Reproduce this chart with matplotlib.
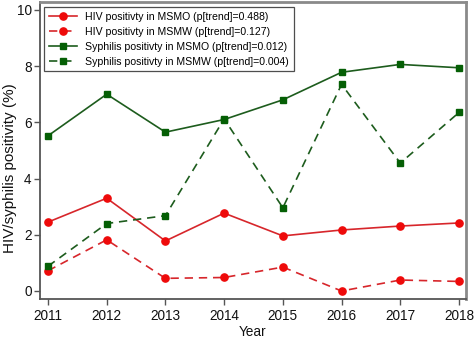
import matplotlib
matplotlib.use("Agg")
import matplotlib.pyplot as plt

years = [2011, 2012, 2013, 2014, 2015, 2016, 2017, 2018]
hiv_msmo = [2.45, 3.30, 1.78, 2.77, 1.96, 2.17, 2.31, 2.42]
hiv_msmw = [0.72, 1.82, 0.45, 0.48, 0.85, 0.00, 0.39, 0.34]
syph_msmo = [5.52, 7.00, 5.65, 6.10, 6.80, 7.78, 8.06, 7.94]
syph_msmw = [0.88, 2.40, 2.68, 6.12, 2.96, 7.35, 4.55, 6.35]
labels = ["HIV positivty in MSMO (p[trend]=0.488)",
          "HIV positivty in MSMW (p[trend]=0.127)",
          "Syphilis positivty in MSMO (p[trend]=0.012)",
          "Syphilis positivty in MSMW (p[trend]=0.004)"]

plt.rcParams['font.family'] = ['Liberation Sans', 'DejaVu Sans']

fig = plt.figure(figsize=(4.74, 3.38), dpi=100)
ax = fig.add_axes([40/474, 1 - 299/338, (466-40)/474, (299-2)/338])

red_line = '#d7262b'
red_mk = '#ee0a0a'
grn_line = '#1d5c1d'
grn_mk = '#055f05'

ax.plot(years, hiv_msmo, '-', color=red_line, lw=1.2, marker='o', ms=5.2,
        mfc=red_mk, mec=red_mk, label=labels[0])
ax.plot(years, hiv_msmw, '--', color=red_line, lw=1.2, marker='o', ms=5.2,
        mfc=red_mk, mec=red_mk, dashes=(5, 3.5), label=labels[1])
ax.plot(years, syph_msmo, '-', color=grn_line, lw=1.2, marker='s', ms=4.6,
        mfc=grn_mk, mec=grn_mk, label=labels[2])
ax.plot(years, syph_msmw, '--', color=grn_line, lw=1.2, marker='s', ms=4.6,
        mfc=grn_mk, mec=grn_mk, dashes=(5, 3.5), label=labels[3])

ax.set_xlim(2010.864, 2018.119)
ax.set_ylim(-0.285, 10.28)
ax.set_xticks(years)
ax.set_xticklabels([str(y) for y in years])
ax.set_yticks([0, 2, 4, 6, 8, 10])
ax.tick_params(axis='both', direction='out', length=4, width=1, color='#555555',
               labelsize=9.8, labelcolor='#111111', pad=2)
ax.tick_params(axis='x', pad=3)

for s in ['left', 'bottom']:
    ax.spines[s].set_color('#555555')
    ax.spines[s].set_linewidth(1.3)
for s in ['top', 'right']:
    ax.spines[s].set_color('#8a8a8a')
    ax.spines[s].set_linewidth(2.0)

ax.set_xlabel('Year', fontsize=9.8, color='#111111', labelpad=2)
fig.text(10/474, 1 - 168/338, 'HIV/syphilis positivity (%)', rotation=90,
         ha='center', va='center', fontsize=11, color='#111111')

leg = ax.legend(loc='upper left', bbox_to_anchor=(0.005, 0.99), fontsize=7.6,
                frameon=True, fancybox=False, edgecolor='#222222',
                handlelength=2.7, handletextpad=0.75, borderpad=0.45,
                labelspacing=0.47, borderaxespad=0.2)
leg.get_frame().set_linewidth(0.9)

fig.savefig('out.png', dpi=100)
